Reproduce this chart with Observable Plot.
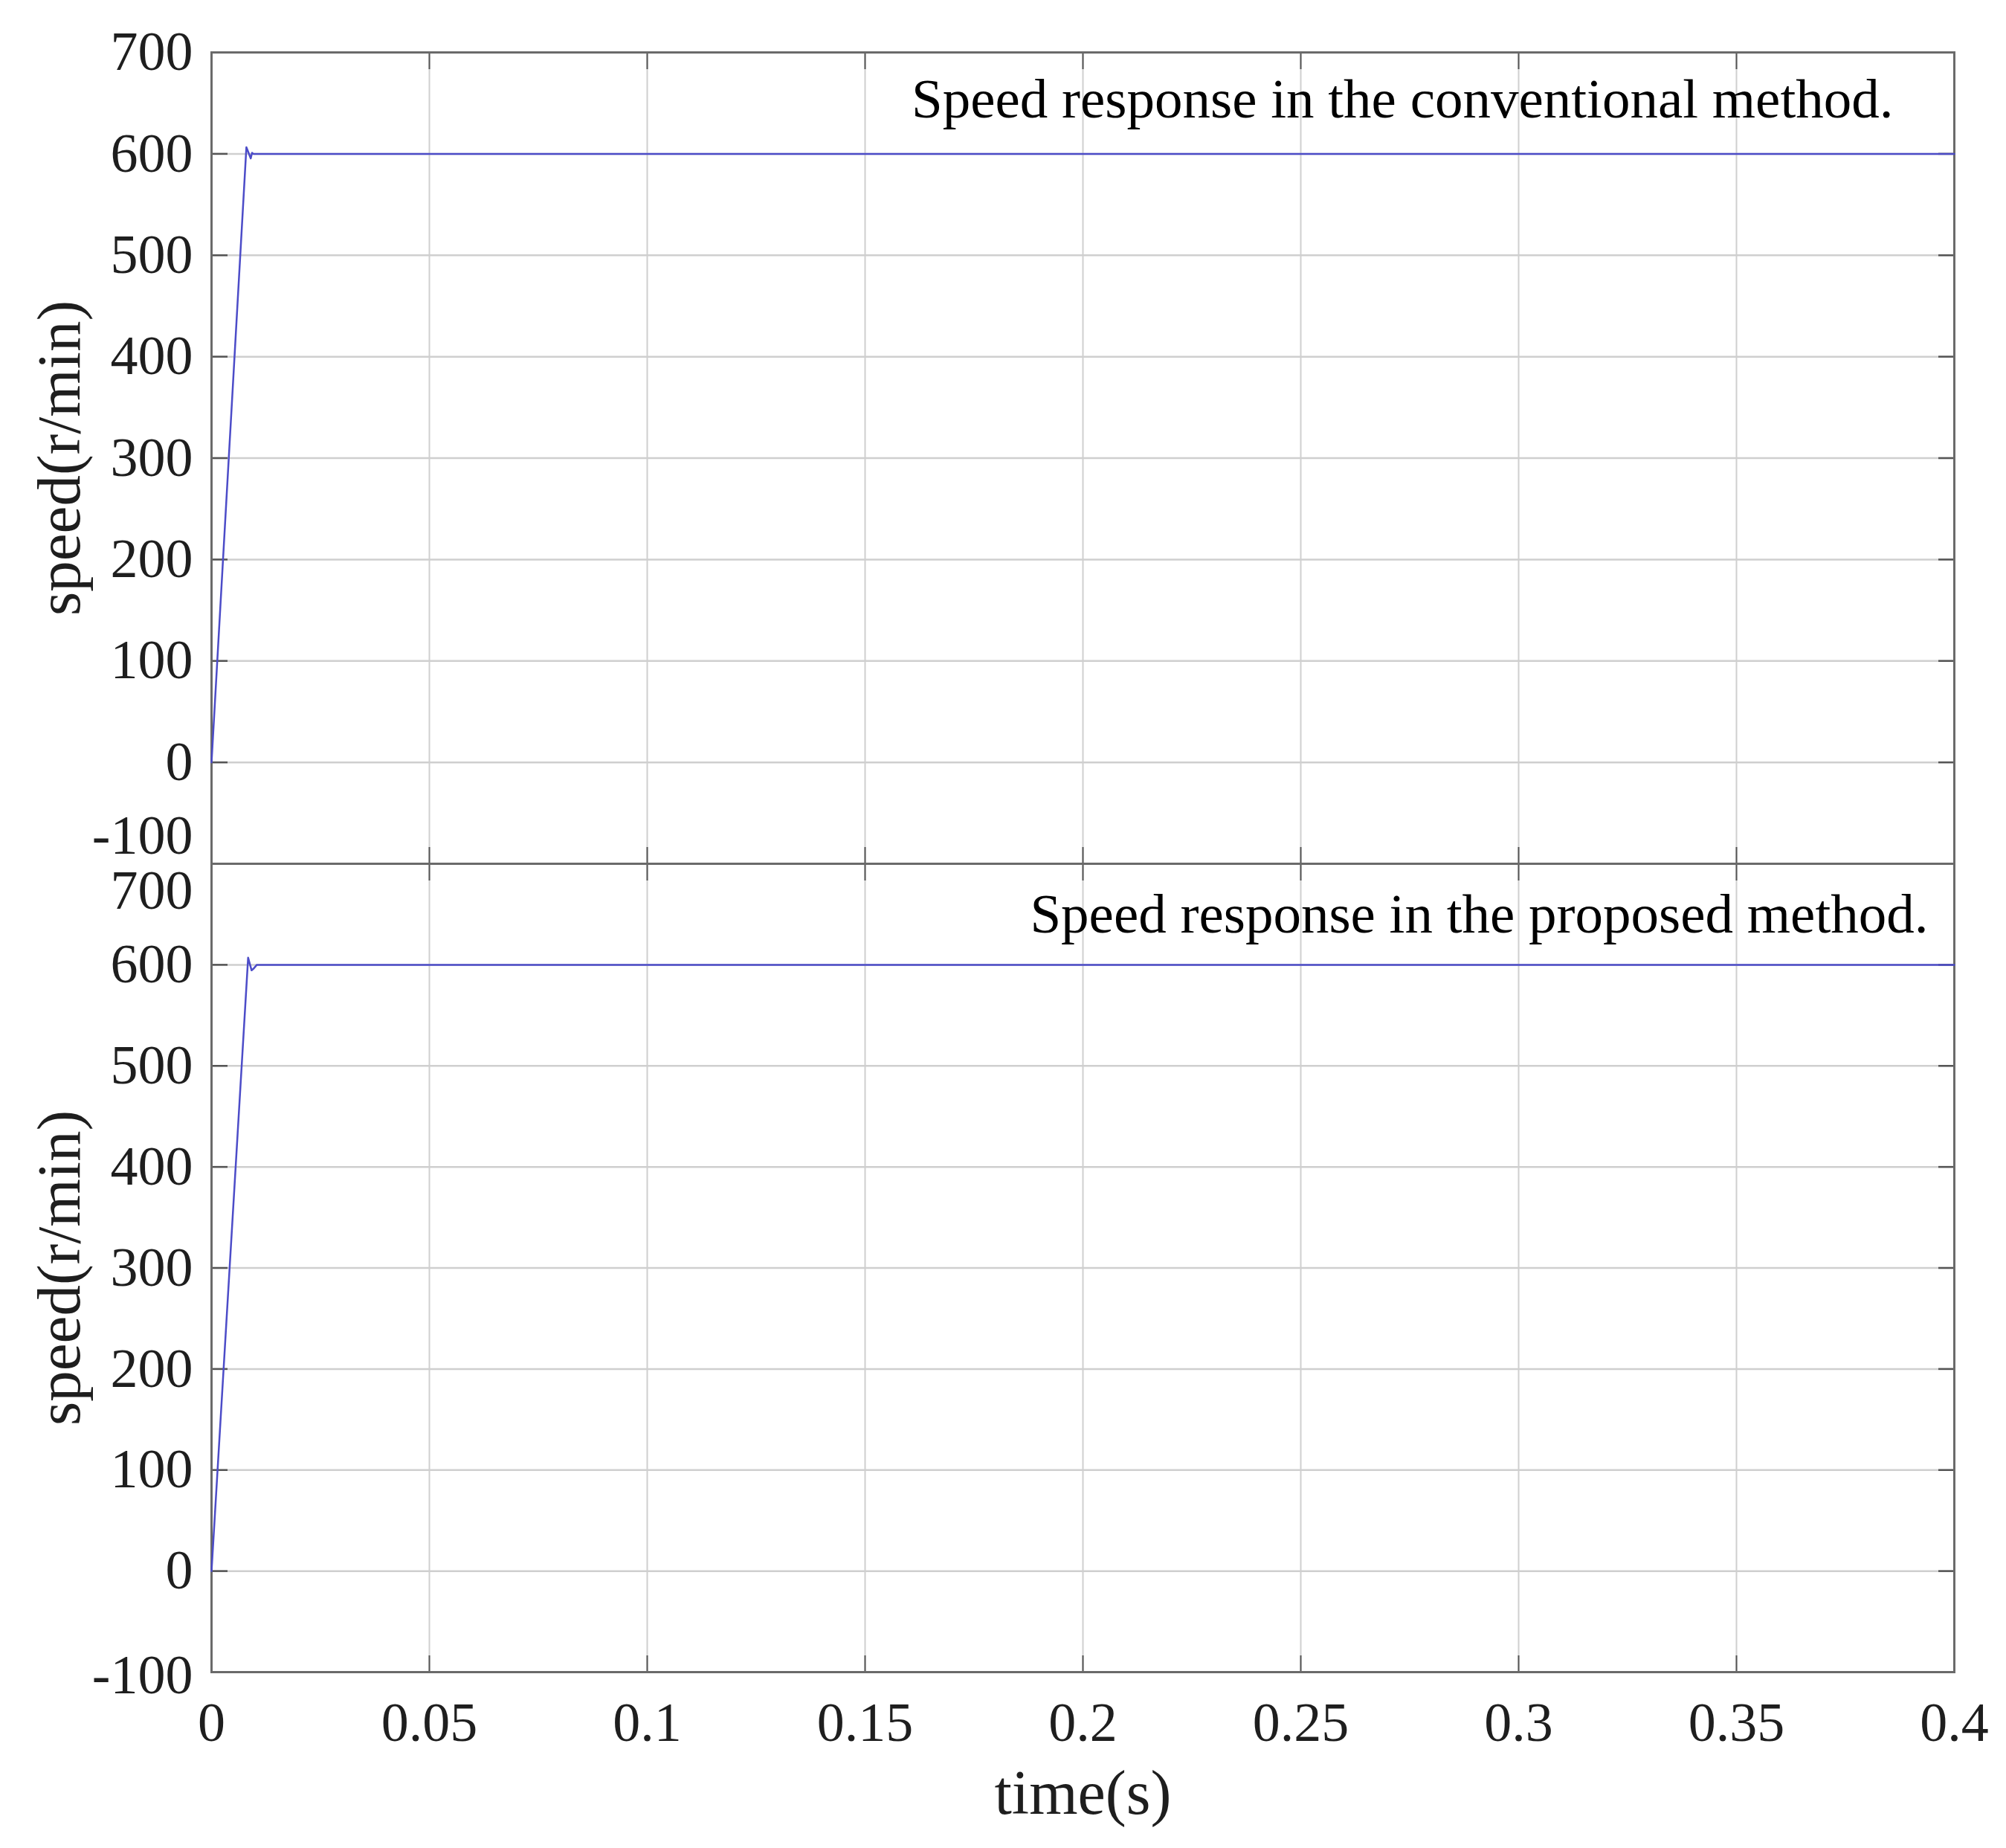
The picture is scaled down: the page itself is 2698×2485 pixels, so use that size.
<!DOCTYPE html>
<html>
<head>
<meta charset="utf-8">
<script src="https://cdn.jsdelivr.net/npm/d3@7"></script>
<script src="https://cdn.jsdelivr.net/npm/@observablehq/plot@0.6"></script>
<style>
  html, body { margin: 0; padding: 0; background: #fff; }
  #chart svg { display: block; overflow: visible; }
</style>
</head>
<body>
<div id="chart"></div>
<script>
// ---- data ----
const timeConv = [0, 0.0080, 0.0090, 0.0093, 0.0096, 0.4];
const speedConv = [0, 606.5, 595.5, 601, 600, 600];
const timeProp = [0, 0.0084, 0.0092, 0.0096, 0.0104, 0.4];
const speedProp = [0, 607, 594.5, 596, 600, 600];

const xTicks = [0, 0.05, 0.1, 0.15, 0.2, 0.25, 0.3, 0.35, 0.4];
const xTickLabels = ["0", "0.05", "0.1", "0.15", "0.2", "0.25", "0.3", "0.35", "0.4"];
const yTicks = [-100, 0, 100, 200, 300, 400, 500, 600, 700];
const yTickLabels = ["-100", "0", "100", "200", "300", "400", "500", "600", "700"];
const titles = ["Speed response in the conventional method.", "Speed response in the proposed method."];
const yLabel = "speed(r/min)";
const xLabel = "time(s)";

// ---- styling ----
const FONT = "Liberation Serif";
const TEXT = "#1e1e1e";
const GRID = "#cfcfcf";
const FRAME = "#6a6a6a";
const LINE = "#4c4cc8";
const W = 2698;

const yFmt = d => yTickLabels[yTicks.indexOf(d)];
const xFmt = d => xTickLabels[xTicks.indexOf(d)];

function panel({time, speed, title, top, bottom, titleDx, titleDy, lowOnly, highShift, lowShift, showX}) {
  const data = time.map((t, i) => ({t, v: speed[i]}));
  const mainTicks = yTicks.filter(d => d !== -100 && d !== 700);
  const marks = [
    Plot.gridX(xTicks, {stroke: GRID, strokeOpacity: 1, strokeWidth: 2}),
    Plot.gridY(yTicks, {stroke: GRID, strokeOpacity: 1, strokeWidth: 2.5}),
    // inward ticks
    Plot.axisY(yTicks, {anchor: "left", tickSize: -22, fill: "none", stroke: "#555", strokeWidth: 2.5, label: null}),
    Plot.axisY(yTicks, {anchor: "right", tickSize: -22, fill: "none", stroke: "#555", strokeWidth: 2.5, label: null}),
    Plot.axisX(xTicks, {anchor: "bottom", tickSize: -22, fill: "none", stroke: "#555", strokeWidth: 2, label: null}),
    Plot.axisX(xTicks, {anchor: "top", tickSize: -22, fill: "none", stroke: "#555", strokeWidth: 2, label: null}),
    // tick labels
    Plot.axisY(mainTicks, {anchor: "left", tickSize: 0, tickPadding: 25, fontSize: 74, fill: TEXT, label: null, tickFormat: yFmt}),
    Plot.axisY([700], {anchor: "left", tickSize: 0, tickPadding: 25, fontSize: 74, fill: TEXT, label: null, dy: highShift, tickFormat: yFmt}),
    Plot.axisY([-100], {anchor: "left", tickSize: 0, tickPadding: 25, fontSize: 74, fill: TEXT, label: null, dy: lowShift, tickFormat: yFmt}),
    Plot.frame({stroke: FRAME, strokeWidth: 3}),
    Plot.line(data, {x: "t", y: "v", stroke: LINE, strokeWidth: 2.5}),
    Plot.text([title], {frameAnchor: "top-right", textAnchor: "end", lineAnchor: "bottom", dx: titleDx, dy: titleDy, fontSize: 75, fill: "#000"}),
    Plot.text([yLabel], {frameAnchor: "left", textAnchor: "middle", rotate: -90, lineAnchor: "middle", dx: -204, fontSize: 83, fill: TEXT})
  ];
  if (showX) {
    marks.push(Plot.axisX(xTicks, {anchor: "bottom", tickSize: 0, tickPadding: 40, fontSize: 74, fill: TEXT, label: null, tickFormat: xFmt}));
    marks.push(Plot.text([xLabel], {frameAnchor: "bottom", textAnchor: "middle", lineAnchor: "bottom", dy: 190, fontSize: 84, fill: TEXT}));
  }
  return Plot.plot({
    width: W,
    height: bottom,
    marginTop: top,
    marginBottom: lowOnly,
    marginLeft: 284,
    marginRight: 70,
    style: {fontFamily: FONT, background: "white", overflow: "visible"},
    x: {type: "linear", domain: [0, 0.4], axis: null},
    y: {type: "linear", domain: [-100, 700], axis: null},
    marks
  });
}

const chart = document.getElementById("chart");
chart.append(panel({time: timeConv, speed: speedConv, title: titles[0], top: 70, bottom: 1161, lowOnly: 0,
  titleDx: -82, titleDy: 87, highShift: 0, lowShift: -37, showX: false}));
chart.append(panel({time: timeProp, speed: speedProp, title: titles[1], top: 0, bottom: 1324, lowOnly: 237,
  titleDx: -35, titleDy: 92, highShift: 37, lowShift: 5, showX: true}));
</script>
</body>
</html>
